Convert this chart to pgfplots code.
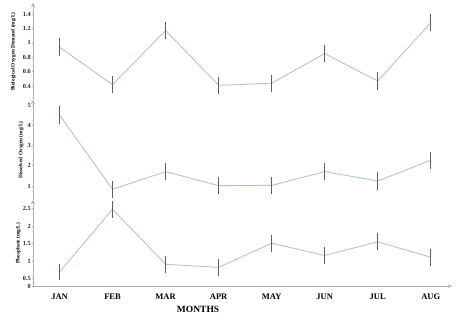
\documentclass[border=0pt]{standalone}
\usepackage{pgfplots}
\pgfplotsset{compat=1.18}
\usepackage{fontspec}
\setmainfont{Liberation Serif}
\definecolor{linec}{RGB}{176,196,222}
\definecolor{errc}{RGB}{95,95,95}
\definecolor{axc}{RGB}{175,175,175}

\pgfplotstableread{
x y e
0 0.94 0.12
1 0.42 0.12
2 1.17 0.12
3 0.41 0.12
4 0.44 0.12
5 0.85 0.12
6 0.47 0.12
7 1.28 0.12
}\bod
\pgfplotstableread{
x y e
0 4.51 0.43
1 0.84 0.43
2 1.71 0.43
3 1.02 0.43
4 1.03 0.43
5 1.71 0.43
6 1.25 0.43
7 2.27 0.43
}\dox
\pgfplotstableread{
x y e
0 0.69 0.24
1 2.48 0.24
2 0.91 0.24
3 0.82 0.24
4 1.51 0.24
5 1.16 0.24
6 1.55 0.24
7 1.11 0.24
}\phos

\pgfplotsset{
  panel/.style={
    scale only axis, width=419pt, xmin=-0.5, xmax=7.4,
    axis line style={axc, line width=0.8pt, -},
    tick style={axc, line width=0.6pt},
    tick align=outside, major tick length=2pt,
    yticklabel style={font=\bfseries\fontsize{6.3}{7}\selectfont, text=black!85, inner sep=1pt},
    /pgf/number format/assume math mode=true,
    ylabel style={font=\bfseries\fontsize{5.3}{6}\selectfont, inner sep=1pt},
    clip=false,
  },
  ser/.style={linec, line width=0.9pt, no marks,
    error bars/.cd, y dir=both, y explicit,
    error bar style={errc, line width=1.1pt},
    error mark=none},
}

\begin{document}
\begin{tikzpicture}
\useasboundingbox (0,0) rectangle (474pt,323pt);
% BOD
\begin{axis}[panel, at={(33pt,223pt)}, anchor=south west, height=97pt,
  axis x line=none, axis y line=left,
  ymin=0.206, ymax=1.553, ytick={0.4,0.6,0.8,1,1.2,1.4},
  ylabel={Biological Oxygen Demand (mg/L)}, ylabel shift=5pt]
\addplot+[ser] table[x=x, y=y, y error=e]{\bod};
\end{axis}
% DO
\begin{axis}[panel, at={(33pt,123pt)}, anchor=south west, height=100pt,
  axis x line=none, axis y line=left,
  ymin=0.309, ymax=5.25, ytick={1,2,3,4,5},
  ylabel={Dissolved Oxygen (mg/L)}, ylabel shift=2pt]
\addplot+[ser] table[x=x, y=y, y error=e]{\dox};
\end{axis}
% Phosphate
\begin{axis}[panel, at={(33pt,37pt)}, anchor=south west, height=86pt,
  axis x line=bottom, axis y line=left,
  ymin=0.29, ymax=2.743,
  ytick={0.29,0.5,1,1.5,2,2.5}, yticklabels={0,0.5,1,1.5,2,2.5},
  xtick={0,...,7}, xticklabels={JAN,FEB,MAR,APR,MAY,JUN,JUL,AUG},
  x tick style={draw=none},
  minor xtick={0.5,1.5,...,6.5,7.4},
  minor x tick style={axc, line width=0.6pt},
  minor tick length=3pt,
  xticklabel style={font=\bfseries\fontsize{8.5}{9}\selectfont, yshift=-3pt},
  xlabel={MONTHS},
  xlabel style={font=\bfseries\fontsize{9.5}{10}\selectfont, at={(axis description cs:0.394,0)}, anchor=north, yshift=-17pt},
  ylabel={Phosphate (mg/L)}, ylabel shift=0pt]
\addplot+[ser] table[x=x, y=y, y error=e]{\phos};
\end{axis}
\end{tikzpicture}
\end{document}
